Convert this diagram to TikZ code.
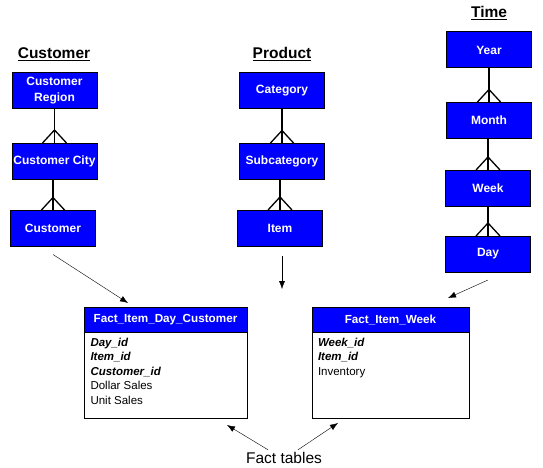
\documentclass[tikz,border=0pt]{standalone}
\usepackage{fontspec}
\setmainfont{Liberation Sans}
\usepackage{tikz}
\usetikzlibrary{arrows.meta,positioning}
\usepackage{xcolor}
\definecolor{dimblue}{RGB}{0,0,255}
\tikzstyle{dimbox} = [draw=black, line width=1pt, fill=dimblue, text=white, font=\fontsize{12}{15.5}\selectfont\bfseries, minimum width=85pt, minimum height=36pt, inner sep=1pt, outer sep=0pt, align=center]
\tikzstyle{dimtitle} = [font=\fontsize{15.5}{18}\selectfont\bfseries]
\tikzstyle{facthead} = [draw=black, line width=0.8pt, fill=dimblue, text=white, font=\fontsize{11.7}{14}\selectfont\bfseries, minimum height=25pt, inner sep=0pt, outer sep=0pt]
\tikzstyle{factbody} = [draw=black, line width=0.8pt, fill=white, font=\fontsize{11.5}{14.5}\selectfont, inner xsep=5pt, inner ysep=5pt, outer sep=0pt, anchor=north west]
\tikzstyle{rollup} = [line width=1.3pt, black]
\tikzstyle{arrow} = [-{Latex[length=8pt,width=6pt]}, black]

\begin{document}
\begin{tikzpicture}[x=1pt, y=-1pt]
\useasboundingbox (0,0) rectangle (543,468);

% Customer hierarchy
\node[dimtitle] at (54,54) {\underline{Customer}};
\node[dimbox] (creg) at (54.5,90.5) {Customer\\Region};
\node[dimbox] (ccity) at (54.5,161) {Customer City};
\node[dimbox] (cust) at (53,228.5) {Customer};

% Product hierarchy
\node[dimtitle] at (282,54) {\underline{Product}};
\node[dimbox] (cat) at (282,90.5) {Category};
\node[dimbox] (subcat) at (282,161.5) {Subcategory};
\node[dimbox] (item) at (280,228) {Item};

% Time hierarchy
\node[dimtitle] at (489,13) {\underline{Time}};
\node[dimbox] (year) at (489,50) {Year};
\node[dimbox] (month) at (489,120.5) {Month};
\node[dimbox] (week) at (488,188) {Week};
\node[dimbox] (day) at (488,254) {Day};

% One-to-many links (crow's foot at the child)
\foreach \a/\b in {creg/ccity, ccity/cust, cat/subcat, subcat/item, year/month, month/week, week/day} {
    \draw[rollup] (\b.north |- \a.south) -- (\b.north);
    \draw[rollup] ([xshift=-12pt]\b.north) -- ([yshift=13pt]\b.north) -- ([xshift=12pt]\b.north);
}

% Fact tables
\node[facthead, minimum width=163pt] (fidc) at (165.5,319.5) {Fact\_Item\_Day\_Customer};
\node[factbody, minimum width=163pt, inner ysep=6pt] (fidcbody) at (fidc.south west) {\parbox[t][74pt][t]{150pt}{%
    \textbf{\textit{Day\_id}}\\
    \textbf{\textit{Item\_id}}\\
    \textbf{\textit{Customer\_id}}\\
    Dollar Sales\\
    Unit Sales}};
\node[facthead, minimum width=157pt] (fiw) at (390.5,319.5) {Fact\_Item\_Week};
\node[factbody, minimum width=157pt, inner ysep=6pt] (fiwbody) at (fiw.south west) {\parbox[t][74pt][t]{145pt}{%
    \textbf{\textit{Week\_id}}\\
    \textbf{\textit{Item\_id}}\\
    Inventory}};

% Arrows to the fact tables
\coordinate (itemend) at (282,289);
\draw[arrow] ([yshift=-8pt]cust.south) -- ([xshift=-37.5pt,yshift=4pt]fidc.north);
\draw[arrow] ([xshift=2pt,yshift=-10pt]item.south) -- (itemend);
\draw[arrow] ([yshift=-8pt]day.south) -- ([xshift=57.5pt,yshift=9pt]fiw.north);

% Label
\node[font=\fontsize{15.5}{18}\selectfont] (facts) at (284,458) {Fact tables};
\draw[arrow] ([xshift=-16pt,yshift=-1pt]facts.north) -- ([xshift=61.5pt,yshift=-7pt]fidcbody.south);
\draw[arrow] ([xshift=14pt,yshift=-1pt]facts.north) -- ([xshift=-52.5pt,yshift=-5pt]fiwbody.south);
\end{tikzpicture}
\end{document}
